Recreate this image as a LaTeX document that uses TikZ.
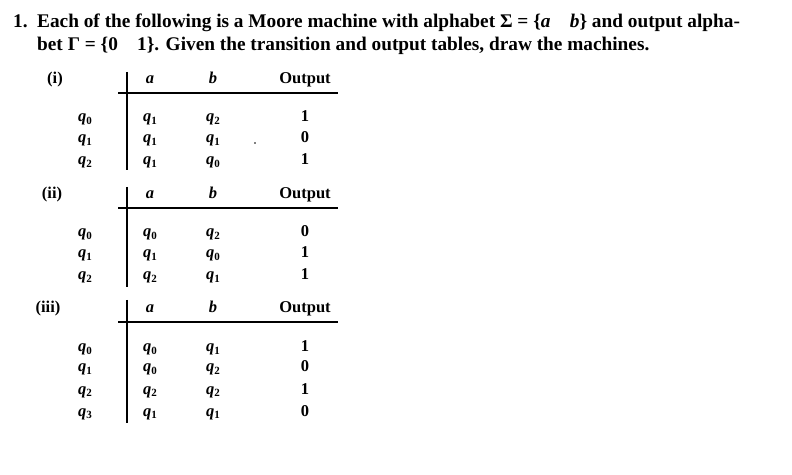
\documentclass[tikz,border=0pt]{standalone}
\usepackage{fontspec}
\setmainfont{Liberation Serif}
\newcommand{\qq}[1]{\textit{q}\raisebox{-0.35ex}{\fontsize{11bp}{12bp}\selectfont #1}}
\begin{document}
\begin{tikzpicture}[x=1bp,y=-1bp,
  tx/.style={inner sep=0pt,font=\bfseries\fontsize{19.3bp}{21bp}\selectfont,anchor=base west},
  cell/.style={inner sep=0pt,font=\bfseries\fontsize{16.5bp}{18bp}\selectfont,anchor=base},
  rule/.style={line width=1.3bp}]
\useasboundingbox (0,0) rectangle (792,475);
\node[tx] (l0) at (13,28) {1.};
\node[tx] (l1) at (37,28) {Each of the following is a Moore machine with alphabet Σ = \{\textit{a}\quad\textit{b}\} and output alpha-};
\node[tx] (l2) at (37,51) {bet Γ = \{0\quad1\}. Given the transition and output tables, draw the machines.};
% table i
\node[cell] (i) at (55,84) {(i)};
\foreach \y/\s/\a/\b/\o [count=\k] in {84/{}/\textit{a}/\textit{b}/Output,122/\qq{0}/\qq{1}/\qq{2}/1,143/\qq{1}/\qq{1}/\qq{1}/0,165/\qq{2}/\qq{1}/\qq{0}/1}{
  \node[cell] (ia\k) at (85,\y) {\s};
  \node[cell] (ib\k) at (150,\y) {\a};
  \node[cell] (ic\k) at (213,\y) {\b};
  \node[cell] (id\k) at (305,\y) {\o};}
\draw[rule] (118,93) coordinate (ih1) -- (338,93) coordinate (ih2);
\draw[rule] (127,72) coordinate (iv1) -- (127,170) coordinate (iv2);
\fill (255,143) circle (0.9);
% table ii
\node[cell] (ii) at (52,199) {(ii)};
\foreach \y/\s/\a/\b/\o [count=\k] in {199/{}/\textit{a}/\textit{b}/Output,237/\qq{0}/\qq{0}/\qq{2}/0,258/\qq{1}/\qq{1}/\qq{0}/1,280/\qq{2}/\qq{2}/\qq{1}/1}{
  \node[cell] (iia\k) at (85,\y) {\s};
  \node[cell] (iib\k) at (150,\y) {\a};
  \node[cell] (iic\k) at (213,\y) {\b};
  \node[cell] (iid\k) at (305,\y) {\o};}
\draw[rule] (118,208) coordinate (iih1) -- (338,208) coordinate (iih2);
\draw[rule] (127,187) coordinate (iiv1) -- (127,287) coordinate (iiv2);
% table iii
\node[cell] (iii) at (48,313) {(iii)};
\foreach \y/\s/\a/\b/\o [count=\k] in {313/{}/\textit{a}/\textit{b}/Output,352/\qq{0}/\qq{0}/\qq{1}/1,372/\qq{1}/\qq{0}/\qq{2}/0,394/\qq{2}/\qq{2}/\qq{2}/1,416/\qq{3}/\qq{1}/\qq{1}/0}{
  \node[cell] (iiia\k) at (85,\y) {\s};
  \node[cell] (iiib\k) at (150,\y) {\a};
  \node[cell] (iiic\k) at (213,\y) {\b};
  \node[cell] (iiid\k) at (305,\y) {\o};}
\draw[rule] (118,322) coordinate (iiih1) -- (338,322) coordinate (iiih2);
\draw[rule] (127,300) coordinate (iiiv1) -- (127,423) coordinate (iiiv2);
\end{tikzpicture}
\end{document}
